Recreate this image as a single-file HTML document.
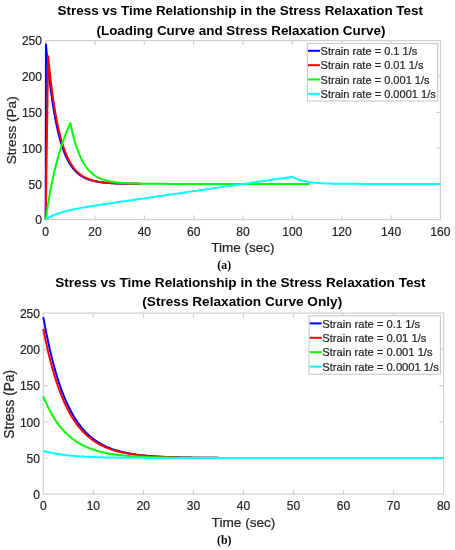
<!DOCTYPE html>
<html lang="en">
<head>
<meta charset="utf-8">
<title>Stress vs Time Relationship in the Stress Relaxation Test</title>
<style>
html,body{margin:0;padding:0;background:#fff;}
svg{display:block;}
</style>
</head>
<body>
<svg width="455" height="550" viewBox="0 0 455 550" font-family="'Liberation Sans', Arial, Helvetica, sans-serif">
<rect width="455" height="550" fill="#fff"/>
<!-- panel a -->
<g font-weight="bold" font-size="13.45" fill="#000" text-anchor="middle">
<text x="240.25" y="15.4">Stress vs Time Relationship in the Stress Relaxation Test</text>
<text x="240.95" y="35">(Loading Curve and Stress Relaxation Curve)</text>
</g>
<g stroke="#d2d2d2" stroke-width="1.2" fill="none">
<path d="M45.7,40.7 H440.4 V219.7 H45.7 Z"/>
<path d="M95.04,219.7 v-4.4 M95.04,40.7 v4.4"/>
<path d="M144.38,219.7 v-4.4 M144.38,40.7 v4.4"/>
<path d="M193.71,219.7 v-4.4 M193.71,40.7 v4.4"/>
<path d="M243.05,219.7 v-4.4 M243.05,40.7 v4.4"/>
<path d="M292.39,219.7 v-4.4 M292.39,40.7 v4.4"/>
<path d="M341.72,219.7 v-4.4 M341.72,40.7 v4.4"/>
<path d="M391.06,219.7 v-4.4 M391.06,40.7 v4.4"/>
<path d="M45.7,183.90 h4.4 M440.4,183.90 h-4.4"/>
<path d="M45.7,148.10 h4.4 M440.4,148.10 h-4.4"/>
<path d="M45.7,112.30 h4.4 M440.4,112.30 h-4.4"/>
<path d="M45.7,76.50 h4.4 M440.4,76.50 h-4.4"/>
</g>
<g fill="#262626" stroke="#262626" stroke-width="0.22" font-size="12.05">
<text x="45.70" y="235.50" text-anchor="middle">0</text>
<text x="95.04" y="235.50" text-anchor="middle">20</text>
<text x="144.38" y="235.50" text-anchor="middle">40</text>
<text x="193.71" y="235.50" text-anchor="middle">60</text>
<text x="243.05" y="235.50" text-anchor="middle">80</text>
<text x="292.39" y="235.50" text-anchor="middle">100</text>
<text x="341.72" y="235.50" text-anchor="middle">120</text>
<text x="391.06" y="235.50" text-anchor="middle">140</text>
<text x="440.40" y="235.50" text-anchor="middle">160</text>
<text x="42.00" y="224.40" text-anchor="end">0</text>
<text x="42.00" y="188.60" text-anchor="end">50</text>
<text x="42.00" y="152.80" text-anchor="end">100</text>
<text x="42.00" y="117.00" text-anchor="end">150</text>
<text x="42.00" y="81.20" text-anchor="end">200</text>
<text x="42.00" y="45.40" text-anchor="end">250</text>
</g>
<g fill="none" stroke-width="2" stroke-linejoin="round">
<path d="M45.70,219.70 L45.70,217.47 L45.71,215.23 L45.71,213.00 L45.71,210.76 L45.72,208.53 L45.72,206.30 L45.72,204.07 L45.72,201.83 L45.73,199.60 L45.73,197.37 L45.73,195.14 L45.74,192.91 L45.74,190.68 L45.74,188.45 L45.75,186.23 L45.75,184.00 L45.75,181.77 L45.76,179.54 L45.76,177.32 L45.76,175.09 L45.77,172.86 L45.77,170.64 L45.77,168.41 L45.77,166.19 L45.78,163.97 L45.78,161.74 L45.78,159.52 L45.79,157.30 L45.79,155.07 L45.79,152.85 L45.80,150.63 L45.80,148.41 L45.80,146.19 L45.81,143.97 L45.81,141.75 L45.81,139.53 L45.82,137.31 L45.82,135.09 L45.82,132.88 L45.82,130.66 L45.83,128.44 L45.83,126.23 L45.83,124.01 L45.84,121.79 L45.84,119.58 L45.84,117.37 L45.85,115.15 L45.85,112.94 L45.85,110.72 L45.86,108.51 L45.86,106.30 L45.86,104.09 L45.87,101.88 L45.87,99.66 L45.87,97.45 L45.87,95.24 L45.88,93.03 L45.88,90.82 L45.88,88.62 L45.89,86.41 L45.89,84.20 L45.89,81.99 L45.90,79.78 L45.90,77.58 L45.90,75.37 L45.91,73.17 L45.91,70.96 L45.91,68.76 L45.92,66.55 L45.92,64.35 L45.92,62.14 L45.92,59.94 L45.93,57.74 L45.93,55.54 L45.93,53.34 L45.94,51.13 L45.94,48.93 L45.94,46.73 L45.95,44.53 L46.26,48.03 L46.57,51.44 L46.89,54.76 L47.20,58.01 L47.51,61.17 L47.83,64.25 L48.14,67.25 L48.45,70.18 L48.77,73.03 L49.08,75.81 L49.40,78.53 L49.71,81.17 L50.02,83.75 L50.34,86.26 L50.65,88.71 L50.96,91.10 L51.28,93.43 L51.59,95.70 L51.90,97.92 L52.22,100.07 L52.53,102.18 L52.84,104.23 L53.16,106.23 L53.47,108.18 L53.78,110.08 L54.10,111.93 L54.41,113.74 L54.73,115.50 L55.04,117.21 L55.35,118.89 L55.67,120.52 L55.98,122.11 L56.29,123.66 L56.61,125.17 L56.92,126.65 L57.23,128.08 L57.55,129.48 L57.86,130.85 L58.17,132.18 L58.49,133.48 L58.80,134.75 L59.11,135.98 L59.43,137.18 L59.74,138.35 L60.05,139.50 L60.37,140.61 L60.68,141.70 L61.00,142.76 L61.31,143.79 L61.62,144.80 L61.94,145.78 L62.25,146.73 L62.56,147.67 L62.88,148.58 L63.19,149.46 L63.50,150.33 L63.82,151.17 L64.13,151.99 L64.44,152.79 L64.76,153.57 L65.07,154.33 L65.38,155.08 L65.70,155.80 L66.01,156.51 L66.33,157.19 L66.64,157.86 L66.95,158.52 L67.27,159.15 L67.58,159.77 L67.89,160.38 L68.21,160.97 L68.52,161.55 L68.83,162.11 L69.15,162.65 L69.46,163.19 L69.77,163.71 L70.09,164.21 L70.40,164.71 L70.71,165.19 L71.03,165.66 L71.34,166.12 L71.65,166.56 L71.97,167.00 L72.28,167.42 L72.60,167.84 L72.91,168.24 L73.22,168.63 L73.54,169.02 L73.85,169.39 L74.16,169.75 L74.48,170.11 L74.79,170.45 L75.10,170.79 L75.42,171.12 L75.73,171.44 L76.04,171.75 L76.36,172.06 L76.67,172.36 L76.98,172.65 L77.30,172.93 L77.61,173.20 L77.93,173.47 L78.24,173.73 L78.55,173.99 L78.87,174.24 L79.18,174.48 L79.49,174.72 L79.81,174.95 L80.12,175.17 L80.43,175.39 L80.75,175.60 L81.06,175.81 L81.37,176.02 L81.69,176.21 L82.00,176.41 L82.31,176.59 L82.63,176.78 L82.94,176.96 L83.26,177.13 L83.57,177.30 L83.88,177.47 L84.20,177.63 L84.51,177.79 L84.82,177.94 L85.14,178.09 L85.45,178.23 L85.76,178.38 L86.08,178.52 L86.39,178.65 L86.70,178.78 L87.02,178.91 L87.33,179.04 L87.64,179.16 L87.96,179.28 L88.27,179.39 L88.58,179.51 L88.90,179.62 L89.21,179.72 L89.53,179.83 L89.84,179.93 L90.15,180.03 L90.47,180.13 L90.78,180.22 L91.09,180.31 L91.41,180.40 L91.72,180.49 L92.03,180.58 L92.35,180.66 L92.66,180.74 L92.97,180.82 L93.29,180.90 L93.60,180.97 L93.91,181.05 L94.23,181.12 L94.54,181.19 L94.86,181.26 L95.17,181.32 L95.48,181.39 L95.80,181.45 L96.11,181.51 L96.42,181.57 L96.74,181.63 L97.05,181.69 L97.36,181.74 L97.68,181.80 L97.99,181.85 L98.30,181.90 L98.62,181.95 L98.93,182.00 L99.24,182.05 L99.56,182.09 L99.87,182.14 L100.18,182.18 L100.50,182.23 L100.81,182.27 L101.13,182.31 L101.44,182.35 L101.75,182.39 L102.07,182.43 L102.38,182.46 L102.69,182.50 L103.01,182.54 L103.32,182.57 L103.63,182.60 L103.95,182.64 L104.26,182.67 L104.57,182.70 L104.89,182.73 L105.20,182.76 L105.51,182.79 L105.83,182.81 L106.14,182.84 L106.46,182.87 L106.77,182.89 L107.08,182.92 L107.40,182.94 L107.71,182.97 L108.02,182.99 L108.34,183.01 L108.65,183.04 L108.96,183.06 L109.28,183.08 L109.59,183.10 L109.90,183.12 L110.22,183.14 L110.53,183.16 L110.84,183.18 L111.16,183.20 L111.47,183.21 L111.79,183.23 L112.10,183.25 L112.41,183.26 L112.73,183.28 L113.04,183.29 L113.35,183.31 L113.67,183.32 L113.98,183.34 L114.29,183.35 L114.61,183.37 L114.92,183.38 L115.23,183.39 L115.55,183.41 L115.86,183.42 L116.17,183.43 L116.49,183.44 L116.80,183.45 L117.11,183.47 L117.43,183.48 L117.74,183.49 L118.06,183.50 L118.37,183.51 L118.68,183.52 L119.00,183.53 L119.31,183.54 L119.62,183.55 L119.94,183.55 L120.25,183.56 L120.56,183.57 L120.88,183.58 L121.19,183.59 L121.50,183.60 L121.82,183.60 L122.13,183.61 L122.44,183.62 L122.76,183.62 L123.07,183.63 L123.39,183.64 L123.70,183.65 L124.01,183.65 L124.33,183.66 L124.64,183.66 L124.95,183.67 L125.27,183.68 L125.58,183.68 L125.89,183.69 L126.21,183.69 L126.52,183.70 L126.83,183.70 L127.15,183.71 L127.46,183.71 L127.77,183.72 L128.09,183.72 L128.40,183.73 L128.71,183.73 L129.03,183.73 L129.34,183.74 L129.66,183.74 L129.97,183.75 L130.28,183.75 L130.60,183.75 L130.91,183.76 L131.22,183.76 L131.54,183.76 L131.85,183.77 L132.16,183.77 L132.48,183.77 L132.79,183.78 L133.10,183.78 L133.42,183.78 L133.73,183.79 L134.04,183.79 L134.36,183.79 L134.67,183.80 L134.99,183.80 L135.30,183.80 L135.61,183.80 L135.93,183.81 L136.24,183.81 L136.55,183.81 L136.87,183.81 L137.18,183.81 L137.49,183.82 L137.81,183.82 L138.12,183.82 L138.43,183.82 L138.75,183.82 L139.06,183.83 L139.37,183.83 L139.69,183.83" stroke="#0000ff"/>
<path d="M45.70,219.70 L45.73,217.47 L45.76,215.24 L45.79,213.02 L45.82,210.80 L45.86,208.58 L45.89,206.37 L45.92,204.16 L45.95,201.96 L45.98,199.77 L46.01,197.57 L46.04,195.39 L46.07,193.20 L46.11,191.02 L46.14,188.85 L46.17,186.68 L46.20,184.51 L46.23,182.35 L46.26,180.19 L46.29,178.04 L46.32,175.89 L46.36,173.74 L46.39,171.60 L46.42,169.47 L46.45,167.33 L46.48,165.21 L46.51,163.08 L46.54,160.96 L46.57,158.85 L46.61,156.74 L46.64,154.63 L46.67,152.53 L46.70,150.43 L46.73,148.33 L46.76,146.24 L46.79,144.16 L46.82,142.08 L46.86,140.00 L46.89,137.92 L46.92,135.86 L46.95,133.79 L46.98,131.73 L47.01,129.67 L47.04,127.62 L47.07,125.57 L47.11,123.52 L47.14,121.48 L47.17,119.45 L47.20,117.41 L47.23,115.38 L47.26,113.36 L47.29,111.34 L47.32,109.32 L47.35,107.31 L47.39,105.30 L47.42,103.29 L47.45,101.29 L47.48,99.29 L47.51,97.30 L47.54,95.31 L47.57,93.32 L47.60,91.34 L47.64,89.36 L47.67,87.39 L47.70,85.42 L47.73,83.45 L47.76,81.49 L47.79,79.53 L47.82,77.58 L47.85,75.62 L47.89,73.68 L47.92,71.73 L47.95,69.79 L47.98,67.86 L48.01,65.92 L48.04,64.00 L48.07,62.07 L48.10,60.15 L48.14,58.23 L48.17,56.32 L48.48,59.52 L48.79,62.64 L49.11,65.68 L49.42,68.65 L49.73,71.54 L50.05,74.36 L50.36,77.11 L50.68,79.79 L50.99,82.41 L51.30,84.95 L51.62,87.44 L51.93,89.86 L52.24,92.22 L52.56,94.52 L52.87,96.76 L53.18,98.95 L53.50,101.08 L53.81,103.16 L54.12,105.19 L54.44,107.16 L54.75,109.09 L55.06,110.97 L55.38,112.80 L55.69,114.58 L56.00,116.32 L56.32,118.02 L56.63,119.67 L56.95,121.28 L57.26,122.85 L57.57,124.39 L57.89,125.88 L58.20,127.34 L58.51,128.75 L58.83,130.14 L59.14,131.49 L59.45,132.80 L59.77,134.09 L60.08,135.34 L60.39,136.56 L60.71,137.74 L61.02,138.90 L61.33,140.03 L61.65,141.13 L61.96,142.21 L62.28,143.25 L62.59,144.27 L62.90,145.27 L63.22,146.24 L63.53,147.18 L63.84,148.10 L64.16,149.00 L64.47,149.88 L64.78,150.73 L65.10,151.56 L65.41,152.38 L65.72,153.17 L66.04,153.94 L66.35,154.69 L66.66,155.42 L66.98,156.14 L67.29,156.83 L67.60,157.51 L67.92,158.18 L68.23,158.82 L68.55,159.45 L68.86,160.06 L69.17,160.66 L69.49,161.25 L69.80,161.81 L70.11,162.37 L70.43,162.91 L70.74,163.44 L71.05,163.95 L71.37,164.45 L71.68,164.94 L71.99,165.41 L72.31,165.88 L72.62,166.33 L72.93,166.77 L73.25,167.20 L73.56,167.62 L73.88,168.03 L74.19,168.43 L74.50,168.82 L74.82,169.19 L75.13,169.56 L75.44,169.92 L75.76,170.27 L76.07,170.62 L76.38,170.95 L76.70,171.27 L77.01,171.59 L77.32,171.90 L77.64,172.20 L77.95,172.50 L78.26,172.78 L78.58,173.06 L78.89,173.33 L79.20,173.60 L79.52,173.86 L79.83,174.11 L80.15,174.35 L80.46,174.59 L80.77,174.83 L81.09,175.05 L81.40,175.28 L81.71,175.49 L82.03,175.70 L82.34,175.91 L82.65,176.11 L82.97,176.31 L83.28,176.50 L83.59,176.68 L83.91,176.86 L84.22,177.04 L84.53,177.21 L84.85,177.38 L85.16,177.54 L85.48,177.70 L85.79,177.86 L86.10,178.01 L86.42,178.16 L86.73,178.30 L87.04,178.44 L87.36,178.58 L87.67,178.71 L87.98,178.84 L88.30,178.97 L88.61,179.09 L88.92,179.21 L89.24,179.33 L89.55,179.45 L89.86,179.56 L90.18,179.67 L90.49,179.77 L90.81,179.88 L91.12,179.98 L91.43,180.08 L91.75,180.17 L92.06,180.27 L92.37,180.36 L92.69,180.45 L93.00,180.53 L93.31,180.62 L93.63,180.70 L93.94,180.78 L94.25,180.86 L94.57,180.93 L94.88,181.01 L95.19,181.08 L95.51,181.15 L95.82,181.22 L96.13,181.29 L96.45,181.35 L96.76,181.42 L97.08,181.48 L97.39,181.54 L97.70,181.60 L98.02,181.66 L98.33,181.71 L98.64,181.77 L98.96,181.82 L99.27,181.87 L99.58,181.93 L99.90,181.98 L100.21,182.02 L100.52,182.07 L100.84,182.12 L101.15,182.16 L101.46,182.20 L101.78,182.25 L102.09,182.29 L102.41,182.33 L102.72,182.37 L103.03,182.41 L103.35,182.44 L103.66,182.48 L103.97,182.52 L104.29,182.55 L104.60,182.59 L104.91,182.62 L105.23,182.65 L105.54,182.68 L105.85,182.71 L106.17,182.74 L106.48,182.77 L106.79,182.80 L107.11,182.83 L107.42,182.85 L107.73,182.88 L108.05,182.91 L108.36,182.93 L108.68,182.96 L108.99,182.98 L109.30,183.00 L109.62,183.02 L109.93,183.05 L110.24,183.07 L110.56,183.09 L110.87,183.11 L111.18,183.13 L111.50,183.15 L111.81,183.17 L112.12,183.19 L112.44,183.20 L112.75,183.22 L113.06,183.24 L113.38,183.25 L113.69,183.27 L114.01,183.29 L114.32,183.30 L114.63,183.32 L114.95,183.33 L115.26,183.35 L115.57,183.36 L115.89,183.37 L116.20,183.39 L116.51,183.40 L116.83,183.41 L117.14,183.42 L117.45,183.44 L117.77,183.45 L118.08,183.46 L118.39,183.47 L118.71,183.48 L119.02,183.49 L119.33,183.50 L119.65,183.51 L119.96,183.52 L120.28,183.53 L120.59,183.54 L120.90,183.55 L121.22,183.56 L121.53,183.57 L121.84,183.58 L122.16,183.58 L122.47,183.59 L122.78,183.60 L123.10,183.61 L123.41,183.61 L123.72,183.62 L124.04,183.63 L124.35,183.63 L124.66,183.64 L124.98,183.65 L125.29,183.65 L125.61,183.66 L125.92,183.67 L126.23,183.67 L126.55,183.68 L126.86,183.68 L127.17,183.69 L127.49,183.69 L127.80,183.70 L128.11,183.70 L128.43,183.71 L128.74,183.71 L129.05,183.72 L129.37,183.72 L129.68,183.73 L129.99,183.73 L130.31,183.74 L130.62,183.74 L130.94,183.74 L131.25,183.75 L131.56,183.75 L131.88,183.76 L132.19,183.76 L132.50,183.76 L132.82,183.77 L133.13,183.77 L133.44,183.77 L133.76,183.78 L134.07,183.78 L134.38,183.78 L134.70,183.79 L135.01,183.79 L135.32,183.79 L135.64,183.79 L135.95,183.80 L136.26,183.80 L136.58,183.80 L136.89,183.80 L137.21,183.81 L137.52,183.81 L137.83,183.81 L138.15,183.81 L138.46,183.82 L138.77,183.82 L139.09,183.82 L139.40,183.82 L139.71,183.82 L140.03,183.83 L140.34,183.83 L140.65,183.83 L140.97,183.83 L141.28,183.83 L141.59,183.83 L141.91,183.84" stroke="#ff0000"/>
<path d="M45.70,219.70 L46.01,217.49 L46.32,215.32 L46.64,213.19 L46.95,211.11 L47.26,209.07 L47.57,207.06 L47.89,205.10 L48.20,203.17 L48.51,201.28 L48.82,199.43 L49.13,197.61 L49.45,195.82 L49.76,194.07 L50.07,192.35 L50.38,190.66 L50.70,189.01 L51.01,187.38 L51.32,185.78 L51.63,184.21 L51.95,182.67 L52.26,181.16 L52.57,179.67 L52.88,178.21 L53.19,176.78 L53.51,175.36 L53.82,173.98 L54.13,172.61 L54.44,171.27 L54.76,169.95 L55.07,168.65 L55.38,167.38 L55.69,166.12 L56.00,164.89 L56.32,163.67 L56.63,162.47 L56.94,161.29 L57.25,160.13 L57.57,158.99 L57.88,157.87 L58.19,156.76 L58.50,155.67 L58.82,154.59 L59.13,153.53 L59.44,152.48 L59.75,151.45 L60.06,150.44 L60.38,149.43 L60.69,148.44 L61.00,147.47 L61.31,146.51 L61.63,145.56 L61.94,144.62 L62.25,143.70 L62.56,142.78 L62.87,141.88 L63.19,140.99 L63.50,140.11 L63.81,139.24 L64.12,138.38 L64.44,137.54 L64.75,136.70 L65.06,135.87 L65.37,135.05 L65.68,134.24 L66.00,133.44 L66.31,132.65 L66.62,131.86 L66.93,131.09 L67.25,130.32 L67.56,129.56 L67.87,128.81 L68.18,128.06 L68.50,127.32 L68.81,126.59 L69.12,125.87 L69.43,125.15 L69.74,124.44 L70.06,123.74 L70.37,123.04 L71.17,126.87 L71.97,130.45 L72.77,133.81 L73.57,136.95 L74.37,139.90 L75.17,142.67 L75.97,145.26 L76.77,147.69 L77.57,149.96 L78.37,152.09 L79.17,154.09 L79.97,155.96 L80.77,157.72 L81.57,159.36 L82.37,160.90 L83.17,162.35 L83.97,163.70 L84.77,164.97 L85.57,166.16 L86.37,167.28 L87.17,168.32 L87.98,169.30 L88.78,170.22 L89.58,171.08 L90.38,171.88 L91.18,172.64 L91.98,173.34 L92.78,174.01 L93.58,174.63 L94.38,175.21 L95.18,175.76 L95.98,176.27 L96.78,176.75 L97.58,177.20 L98.38,177.62 L99.18,178.01 L99.98,178.38 L100.78,178.73 L101.58,179.05 L102.38,179.36 L103.18,179.64 L103.98,179.91 L104.78,180.16 L105.58,180.40 L106.38,180.62 L107.18,180.82 L107.98,181.02 L108.78,181.20 L109.58,181.37 L110.38,181.53 L111.18,181.68 L111.98,181.82 L112.78,181.95 L113.58,182.07 L114.38,182.18 L115.19,182.29 L115.99,182.39 L116.79,182.49 L117.59,182.58 L118.39,182.66 L119.19,182.74 L119.99,182.81 L120.79,182.88 L121.59,182.94 L122.39,183.00 L123.19,183.06 L123.99,183.11 L124.79,183.16 L125.59,183.21 L126.39,183.25 L127.19,183.29 L127.99,183.33 L128.79,183.37 L129.59,183.40 L130.39,183.43 L131.19,183.46 L131.99,183.49 L132.79,183.51 L133.59,183.54 L134.39,183.56 L135.19,183.58 L135.99,183.60 L136.79,183.62 L137.59,183.64 L138.39,183.66 L139.19,183.67 L139.99,183.68 L140.79,183.70 L141.59,183.71 L142.39,183.72 L143.20,183.73 L144.00,183.74 L144.80,183.75 L145.60,183.76 L146.40,183.77 L147.20,183.78 L148.00,183.79 L148.80,183.79 L149.60,183.80 L150.40,183.81 L151.20,183.81 L152.00,183.82 L152.80,183.82 L153.60,183.83 L154.40,183.83 L155.20,183.84 L156.00,183.84 L156.80,183.84 L157.60,183.85 L158.40,183.85 L159.20,183.85 L160.00,183.86 L160.80,183.86 L161.60,183.86 L162.40,183.87 L163.20,183.87 L164.00,183.87 L164.80,183.87 L165.60,183.87 L166.40,183.87 L167.20,183.88 L168.00,183.88 L168.80,183.88 L169.60,183.88 L170.41,183.88 L171.21,183.88 L172.01,183.88 L172.81,183.88 L173.61,183.89 L174.41,183.89 L175.21,183.89 L176.01,183.89 L176.81,183.89 L177.61,183.89 L178.41,183.89 L179.21,183.89 L180.01,183.89 L180.81,183.89 L181.61,183.89 L182.41,183.89 L183.21,183.89 L184.01,183.89 L184.81,183.89 L185.61,183.89 L186.41,183.90 L187.21,183.90 L188.01,183.90 L188.81,183.90 L189.61,183.90 L190.41,183.90 L191.21,183.90 L192.01,183.90 L192.81,183.90 L193.61,183.90 L194.41,183.90 L195.21,183.90 L196.01,183.90 L196.81,183.90 L197.61,183.90 L198.42,183.90 L199.22,183.90 L200.02,183.90 L200.82,183.90 L201.62,183.90 L202.42,183.90 L203.22,183.90 L204.02,183.90 L204.82,183.90 L205.62,183.90 L206.42,183.90 L207.22,183.90 L208.02,183.90 L208.82,183.90 L209.62,183.90 L210.42,183.90 L211.22,183.90 L212.02,183.90 L212.82,183.90 L213.62,183.90 L214.42,183.90 L215.22,183.90 L216.02,183.90 L216.82,183.90 L217.62,183.90 L218.42,183.90 L219.22,183.90 L220.02,183.90 L220.82,183.90 L221.62,183.90 L222.42,183.90 L223.22,183.90 L224.02,183.90 L224.82,183.90 L225.63,183.90 L226.43,183.90 L227.23,183.90 L228.03,183.90 L228.83,183.90 L229.63,183.90 L230.43,183.90 L231.23,183.90 L232.03,183.90 L232.83,183.90 L233.63,183.90 L234.43,183.90 L235.23,183.90 L236.03,183.90 L236.83,183.90 L237.63,183.90 L238.43,183.90 L239.23,183.90 L240.03,183.90 L240.83,183.90 L241.63,183.90 L242.43,183.90 L243.23,183.90 L244.03,183.90 L244.83,183.90 L245.63,183.90 L246.43,183.90 L247.23,183.90 L248.03,183.90 L248.83,183.90 L249.63,183.90 L250.43,183.90 L251.23,183.90 L252.03,183.90 L252.83,183.90 L253.64,183.90 L254.44,183.90 L255.24,183.90 L256.04,183.90 L256.84,183.90 L257.64,183.90 L258.44,183.90 L259.24,183.90 L260.04,183.90 L260.84,183.90 L261.64,183.90 L262.44,183.90 L263.24,183.90 L264.04,183.90 L264.84,183.90 L265.64,183.90 L266.44,183.90 L267.24,183.90 L268.04,183.90 L268.84,183.90 L269.64,183.90 L270.44,183.90 L271.24,183.90 L272.04,183.90 L272.84,183.90 L273.64,183.90 L274.44,183.90 L275.24,183.90 L276.04,183.90 L276.84,183.90 L277.64,183.90 L278.44,183.90 L279.24,183.90 L280.04,183.90 L280.85,183.90 L281.65,183.90 L282.45,183.90 L283.25,183.90 L284.05,183.90 L284.85,183.90 L285.65,183.90 L286.45,183.90 L287.25,183.90 L288.05,183.90 L288.85,183.90 L289.65,183.90 L290.45,183.90 L291.25,183.90 L292.05,183.90 L292.85,183.90 L293.65,183.90 L294.45,183.90 L295.25,183.90 L296.05,183.90 L296.85,183.90 L297.65,183.90 L298.45,183.90 L299.25,183.90 L300.05,183.90 L300.85,183.90 L301.65,183.90 L302.45,183.90 L303.25,183.90 L304.05,183.90 L304.85,183.90 L305.65,183.90 L306.45,183.90 L307.25,183.90 L308.06,183.90 L308.86,183.90 L309.66,183.90" stroke="#00ff00"/>
<path d="M45.70,219.70 L48.82,217.67 L51.95,216.00 L55.07,214.60 L58.19,213.41 L61.31,212.38 L64.44,211.48 L67.56,210.69 L70.68,209.97 L73.80,209.30 L76.93,208.69 L80.05,208.11 L83.17,207.56 L86.29,207.03 L89.42,206.52 L92.54,206.02 L95.66,205.53 L98.78,205.05 L101.91,204.58 L105.03,204.11 L108.15,203.64 L111.28,203.18 L114.40,202.72 L117.52,202.26 L120.64,201.80 L123.77,201.35 L126.89,200.89 L130.01,200.43 L133.13,199.98 L136.26,199.52 L139.38,199.07 L142.50,198.62 L145.62,198.16 L148.75,197.71 L151.87,197.26 L154.99,196.80 L158.11,196.35 L161.24,195.90 L164.36,195.44 L167.48,194.99 L170.61,194.54 L173.73,194.08 L176.85,193.63 L179.97,193.18 L183.10,192.72 L186.22,192.27 L189.34,191.82 L192.46,191.36 L195.59,190.91 L198.71,190.46 L201.83,190.00 L204.95,189.55 L208.08,189.10 L211.20,188.64 L214.32,188.19 L217.44,187.74 L220.57,187.28 L223.69,186.83 L226.81,186.38 L229.93,185.93 L233.06,185.47 L236.18,185.02 L239.30,184.57 L242.43,184.11 L245.55,183.66 L248.67,183.21 L251.79,182.75 L254.92,182.30 L258.04,181.85 L261.16,181.39 L264.28,180.94 L267.41,180.49 L270.53,180.03 L273.65,179.58 L276.77,179.13 L279.90,178.67 L283.02,178.22 L286.14,177.77 L289.26,177.31 L292.39,176.86 L292.88,177.14 L293.38,177.40 L293.87,177.66 L294.37,177.91 L294.86,178.14 L295.36,178.37 L295.85,178.59 L296.35,178.79 L296.84,179.00 L297.34,179.19 L297.83,179.37 L298.33,179.55 L298.82,179.72 L299.32,179.89 L299.81,180.05 L300.31,180.20 L300.80,180.34 L301.30,180.48 L301.79,180.62 L302.29,180.75 L302.78,180.87 L303.28,180.99 L303.77,181.10 L304.27,181.21 L304.76,181.32 L305.26,181.42 L305.75,181.52 L306.25,181.61 L306.74,181.70 L307.24,181.79 L307.73,181.87 L308.23,181.95 L308.72,182.03 L309.22,182.10 L309.71,182.17 L310.21,182.24 L310.70,182.31 L311.20,182.37 L311.69,182.43 L312.19,182.49 L312.68,182.54 L313.18,182.60 L313.67,182.65 L314.17,182.70 L314.66,182.74 L315.16,182.79 L315.65,182.83 L316.15,182.87 L316.64,182.92 L317.14,182.95 L317.63,182.99 L318.13,183.03 L318.62,183.06 L319.12,183.09 L319.61,183.13 L320.11,183.16 L320.60,183.19 L321.10,183.21 L321.59,183.24 L322.09,183.27 L322.58,183.29 L323.08,183.32 L323.57,183.34 L324.07,183.36 L324.56,183.38 L325.06,183.40 L325.55,183.42 L326.05,183.44 L326.54,183.46 L327.04,183.48 L327.53,183.49 L328.03,183.51 L328.52,183.52 L329.02,183.54 L329.51,183.55 L330.01,183.57 L330.50,183.58 L331.00,183.59 L331.49,183.60 L331.99,183.62 L332.48,183.63 L332.98,183.64 L333.47,183.65 L333.97,183.66 L334.46,183.67 L334.96,183.68 L335.45,183.69 L335.95,183.69 L336.44,183.70 L336.94,183.71 L337.43,183.72 L337.93,183.72 L338.42,183.73 L338.92,183.74 L339.41,183.74 L339.91,183.75 L340.40,183.76 L340.90,183.76 L341.39,183.77 L341.89,183.77 L342.39,183.78 L342.88,183.78 L343.38,183.79 L343.87,183.79 L344.37,183.80 L344.86,183.80 L345.36,183.80 L345.85,183.81 L346.35,183.81 L346.84,183.81 L347.34,183.82 L347.83,183.82 L348.33,183.82 L348.82,183.83 L349.32,183.83 L349.81,183.83 L350.31,183.84 L350.80,183.84 L351.30,183.84 L351.79,183.84 L352.29,183.85 L352.78,183.85 L353.28,183.85 L353.77,183.85 L354.27,183.85 L354.76,183.86 L355.26,183.86 L355.75,183.86 L356.25,183.86 L356.74,183.86 L357.24,183.86 L357.73,183.86 L358.23,183.87 L358.72,183.87 L359.22,183.87 L359.71,183.87 L360.21,183.87 L360.70,183.87 L361.20,183.87 L361.69,183.87 L362.19,183.88 L362.68,183.88 L363.18,183.88 L363.67,183.88 L364.17,183.88 L364.66,183.88 L365.16,183.88 L365.65,183.88 L366.15,183.88 L366.64,183.88 L367.14,183.88 L367.63,183.88 L368.13,183.88 L368.62,183.89 L369.12,183.89 L369.61,183.89 L370.11,183.89 L370.60,183.89 L371.10,183.89 L371.59,183.89 L372.09,183.89 L372.58,183.89 L373.08,183.89 L373.57,183.89 L374.07,183.89 L374.56,183.89 L375.06,183.89 L375.55,183.89 L376.05,183.89 L376.54,183.89 L377.04,183.89 L377.53,183.89 L378.03,183.89 L378.52,183.89 L379.02,183.89 L379.51,183.89 L380.01,183.89 L380.50,183.89 L381.00,183.89 L381.49,183.89 L381.99,183.90 L382.48,183.90 L382.98,183.90 L383.47,183.90 L383.97,183.90 L384.46,183.90 L384.96,183.90 L385.45,183.90 L385.95,183.90 L386.44,183.90 L386.94,183.90 L387.43,183.90 L387.93,183.90 L388.42,183.90 L388.92,183.90 L389.41,183.90 L389.91,183.90 L390.40,183.90 L390.90,183.90 L391.39,183.90 L391.89,183.90 L392.38,183.90 L392.88,183.90 L393.37,183.90 L393.87,183.90 L394.36,183.90 L394.86,183.90 L395.35,183.90 L395.85,183.90 L396.34,183.90 L396.84,183.90 L397.33,183.90 L397.83,183.90 L398.32,183.90 L398.82,183.90 L399.31,183.90 L399.81,183.90 L400.30,183.90 L400.80,183.90 L401.29,183.90 L401.79,183.90 L402.28,183.90 L402.78,183.90 L403.27,183.90 L403.77,183.90 L404.26,183.90 L404.76,183.90 L405.25,183.90 L405.75,183.90 L406.24,183.90 L406.74,183.90 L407.23,183.90 L407.73,183.90 L408.22,183.90 L408.72,183.90 L409.21,183.90 L409.71,183.90 L410.20,183.90 L410.70,183.90 L411.19,183.90 L411.69,183.90 L412.18,183.90 L412.68,183.90 L413.17,183.90 L413.67,183.90 L414.16,183.90 L414.66,183.90 L415.15,183.90 L415.65,183.90 L416.14,183.90 L416.64,183.90 L417.13,183.90 L417.63,183.90 L418.12,183.90 L418.62,183.90 L419.11,183.90 L419.61,183.90 L420.10,183.90 L420.60,183.90 L421.09,183.90 L421.59,183.90 L422.08,183.90 L422.58,183.90 L423.07,183.90 L423.57,183.90 L424.06,183.90 L424.56,183.90 L425.05,183.90 L425.55,183.90 L426.04,183.90 L426.54,183.90 L427.03,183.90 L427.53,183.90 L428.02,183.90 L428.52,183.90 L429.01,183.90 L429.51,183.90 L430.00,183.90 L430.50,183.90 L430.99,183.90 L431.49,183.90 L431.98,183.90 L432.48,183.90 L432.97,183.90 L433.47,183.90 L433.96,183.90 L434.46,183.90 L434.95,183.90 L435.45,183.90 L435.94,183.90 L436.44,183.90 L436.93,183.90 L437.43,183.90 L437.92,183.90 L438.42,183.90 L438.91,183.90 L439.41,183.90 L439.90,183.90 L440.40,183.90" stroke="#00ffff"/>
</g>
<rect x="307.4" y="43.6" width="130.30" height="57.40" fill="#fff" stroke="#c8c8c8" stroke-width="1.1"/>
<path d="M308,50.80 H320" stroke="#0000ff" stroke-width="2" fill="none"/>
<text x="320.6" y="55.00" font-size="11.06" fill="#262626" stroke="#262626" stroke-width="0.22">Strain rate = 0.1 1/s</text>
<path d="M308,65.20 H320" stroke="#ff0000" stroke-width="2" fill="none"/>
<text x="320.6" y="69.40" font-size="11.06" fill="#262626" stroke="#262626" stroke-width="0.22">Strain rate = 0.01 1/s</text>
<path d="M308,79.50 H320" stroke="#00ff00" stroke-width="2" fill="none"/>
<text x="320.6" y="83.70" font-size="11.06" fill="#262626" stroke="#262626" stroke-width="0.22">Strain rate = 0.001 1/s</text>
<path d="M308,93.90 H320" stroke="#00ffff" stroke-width="2" fill="none"/>
<text x="320.6" y="98.10" font-size="11.06" fill="#262626" stroke="#262626" stroke-width="0.22">Strain rate = 0.0001 1/s</text>
<text x="242.8" y="252" font-size="13.5" fill="#262626" stroke="#262626" stroke-width="0.22" text-anchor="middle">Time (sec)</text>
<text transform="translate(16.2,130.3) rotate(-90)" font-size="13.6" fill="#262626" stroke="#262626" stroke-width="0.22" text-anchor="middle">Stress (Pa)</text>
<text x="224.2" y="268.7" font-size="11.8" font-weight="bold" font-family="'Liberation Serif', 'DejaVu Serif', serif" fill="#000" text-anchor="middle">(a)</text>
<!-- panel b -->
<g font-weight="bold" font-size="13.63" fill="#000" text-anchor="middle">
<text x="240.4" y="286.6">Stress vs Time Relationship in the Stress Relaxation Test</text>
<text x="242.25" y="306.4">(Stress Relaxation Curve Only)</text>
</g>
<g stroke="#d2d2d2" stroke-width="1.2" fill="none">
<path d="M43.3,313.2 H443.6 V494.2 H43.3 Z"/>
<path d="M93.34,494.2 v-4.4 M93.34,313.2 v4.4"/>
<path d="M143.38,494.2 v-4.4 M143.38,313.2 v4.4"/>
<path d="M193.41,494.2 v-4.4 M193.41,313.2 v4.4"/>
<path d="M243.45,494.2 v-4.4 M243.45,313.2 v4.4"/>
<path d="M293.49,494.2 v-4.4 M293.49,313.2 v4.4"/>
<path d="M343.53,494.2 v-4.4 M343.53,313.2 v4.4"/>
<path d="M393.56,494.2 v-4.4 M393.56,313.2 v4.4"/>
<path d="M43.3,458.00 h4.4 M443.6,458.00 h-4.4"/>
<path d="M43.3,421.80 h4.4 M443.6,421.80 h-4.4"/>
<path d="M43.3,385.60 h4.4 M443.6,385.60 h-4.4"/>
<path d="M43.3,349.40 h4.4 M443.6,349.40 h-4.4"/>
</g>
<g fill="#262626" stroke="#262626" stroke-width="0.22" font-size="12.05">
<text x="43.30" y="510.00" text-anchor="middle">0</text>
<text x="93.34" y="510.00" text-anchor="middle">10</text>
<text x="143.38" y="510.00" text-anchor="middle">20</text>
<text x="193.41" y="510.00" text-anchor="middle">30</text>
<text x="243.45" y="510.00" text-anchor="middle">40</text>
<text x="293.49" y="510.00" text-anchor="middle">50</text>
<text x="343.53" y="510.00" text-anchor="middle">60</text>
<text x="393.56" y="510.00" text-anchor="middle">70</text>
<text x="443.60" y="510.00" text-anchor="middle">80</text>
<text x="40.00" y="498.90" text-anchor="end">0</text>
<text x="40.00" y="462.70" text-anchor="end">50</text>
<text x="40.00" y="426.50" text-anchor="end">100</text>
<text x="40.00" y="390.30" text-anchor="end">150</text>
<text x="40.00" y="354.10" text-anchor="end">200</text>
<text x="40.00" y="317.90" text-anchor="end">250</text>
</g>
<g fill="none" stroke-width="2" stroke-linejoin="round">
<path d="M43.30,317.08 L43.94,320.61 L44.57,324.06 L45.21,327.42 L45.84,330.70 L46.48,333.89 L47.12,337.01 L47.75,340.05 L48.39,343.01 L49.02,345.89 L49.66,348.71 L50.30,351.45 L50.93,354.12 L51.57,356.73 L52.20,359.27 L52.84,361.75 L53.47,364.17 L54.11,366.52 L54.75,368.82 L55.38,371.05 L56.02,373.24 L56.65,375.36 L57.29,377.44 L57.93,379.46 L58.56,381.43 L59.20,383.35 L59.83,385.23 L60.47,387.05 L61.11,388.83 L61.74,390.57 L62.38,392.26 L63.01,393.91 L63.65,395.52 L64.29,397.09 L64.92,398.62 L65.56,400.11 L66.19,401.56 L66.83,402.98 L67.47,404.36 L68.10,405.70 L68.74,407.02 L69.37,408.30 L70.01,409.54 L70.64,410.76 L71.28,411.95 L71.92,413.10 L72.55,414.23 L73.19,415.33 L73.82,416.40 L74.46,417.44 L75.10,418.46 L75.73,419.45 L76.37,420.42 L77.00,421.36 L77.64,422.28 L78.28,423.18 L78.91,424.05 L79.55,424.90 L80.18,425.74 L80.82,426.54 L81.46,427.33 L82.09,428.10 L82.73,428.85 L83.36,429.59 L84.00,430.30 L84.64,430.99 L85.27,431.67 L85.91,432.33 L86.54,432.98 L87.18,433.61 L87.81,434.22 L88.45,434.81 L89.09,435.40 L89.72,435.96 L90.36,436.52 L90.99,437.06 L91.63,437.58 L92.27,438.09 L92.90,438.59 L93.54,439.08 L94.17,439.56 L94.81,440.02 L95.45,440.47 L96.08,440.91 L96.72,441.34 L97.35,441.76 L97.99,442.16 L98.63,442.56 L99.26,442.95 L99.90,443.33 L100.53,443.70 L101.17,444.05 L101.81,444.40 L102.44,444.75 L103.08,445.08 L103.71,445.40 L104.35,445.72 L104.99,446.03 L105.62,446.33 L106.26,446.62 L106.89,446.91 L107.53,447.18 L108.16,447.46 L108.80,447.72 L109.44,447.98 L110.07,448.23 L110.71,448.48 L111.34,448.71 L111.98,448.95 L112.62,449.17 L113.25,449.40 L113.89,449.61 L114.52,449.82 L115.16,450.03 L115.80,450.23 L116.43,450.42 L117.07,450.61 L117.70,450.80 L118.34,450.98 L118.98,451.16 L119.61,451.33 L120.25,451.49 L120.88,451.66 L121.52,451.82 L122.16,451.97 L122.79,452.12 L123.43,452.27 L124.06,452.41 L124.70,452.55 L125.33,452.69 L125.97,452.82 L126.61,452.95 L127.24,453.08 L127.88,453.20 L128.51,453.33 L129.15,453.44 L129.79,453.56 L130.42,453.67 L131.06,453.78 L131.69,453.88 L132.33,453.99 L132.97,454.09 L133.60,454.19 L134.24,454.28 L134.87,454.37 L135.51,454.47 L136.15,454.55 L136.78,454.64 L137.42,454.72 L138.05,454.81 L138.69,454.89 L139.33,454.97 L139.96,455.04 L140.60,455.12 L141.23,455.19 L141.87,455.26 L142.50,455.33 L143.14,455.39 L143.78,455.46 L144.41,455.52 L145.05,455.59 L145.68,455.65 L146.32,455.71 L146.96,455.76 L147.59,455.82 L148.23,455.87 L148.86,455.93 L149.50,455.98 L150.14,456.03 L150.77,456.08 L151.41,456.13 L152.04,456.17 L152.68,456.22 L153.32,456.27 L153.95,456.31 L154.59,456.35 L155.22,456.39 L155.86,456.43 L156.50,456.47 L157.13,456.51 L157.77,456.55 L158.40,456.58 L159.04,456.62 L159.67,456.65 L160.31,456.69 L160.95,456.72 L161.58,456.75 L162.22,456.78 L162.85,456.82 L163.49,456.84 L164.13,456.87 L164.76,456.90 L165.40,456.93 L166.03,456.96 L166.67,456.98 L167.31,457.01 L167.94,457.03 L168.58,457.06 L169.21,457.08 L169.85,457.10 L170.49,457.13 L171.12,457.15 L171.76,457.17 L172.39,457.19 L173.03,457.21 L173.67,457.23 L174.30,457.25 L174.94,457.27 L175.57,457.29 L176.21,457.31 L176.84,457.32 L177.48,457.34 L178.12,457.36 L178.75,457.37 L179.39,457.39 L180.02,457.40 L180.66,457.42 L181.30,457.43 L181.93,457.45 L182.57,457.46 L183.20,457.47 L183.84,457.49 L184.48,457.50 L185.11,457.51 L185.75,457.53 L186.38,457.54 L187.02,457.55 L187.66,457.56 L188.29,457.57 L188.93,457.58 L189.56,457.59 L190.20,457.60 L190.84,457.61 L191.47,457.62 L192.11,457.63 L192.74,457.64 L193.38,457.65 L194.01,457.66 L194.65,457.67 L195.29,457.68 L195.92,457.68 L196.56,457.69 L197.19,457.70 L197.83,457.71 L198.47,457.71 L199.10,457.72 L199.74,457.73 L200.37,457.74 L201.01,457.74 L201.65,457.75 L202.28,457.75 L202.92,457.76 L203.55,457.77 L204.19,457.77 L204.83,457.78 L205.46,457.78 L206.10,457.79 L206.73,457.79 L207.37,457.80 L208.01,457.81 L208.64,457.81 L209.28,457.81 L209.91,457.82 L210.55,457.82 L211.19,457.83 L211.82,457.83 L212.46,457.84 L213.09,457.84 L213.73,457.84 L214.36,457.85 L215.00,457.85 L215.64,457.86 L216.27,457.86 L216.91,457.86 L217.54,457.87 L218.18,457.87 L218.82,457.87 L219.45,457.88 L220.09,457.88 L220.72,457.88 L221.36,457.89 L222.00,457.89 L222.63,457.89 L223.27,457.89 L223.90,457.90 L224.54,457.90 L225.18,457.90 L225.81,457.90 L226.45,457.91 L227.08,457.91 L227.72,457.91 L228.36,457.91 L228.99,457.92 L229.63,457.92 L230.26,457.92 L230.90,457.92 L231.53,457.92 L232.17,457.93 L232.81,457.93 L233.44,457.93" stroke="#0000ff"/>
<path d="M43.30,328.99 L43.94,332.23 L44.57,335.39 L45.21,338.46 L45.84,341.46 L46.48,344.39 L47.12,347.24 L47.75,350.02 L48.39,352.73 L49.02,355.37 L49.66,357.95 L50.30,360.46 L50.93,362.91 L51.57,365.29 L52.20,367.62 L52.84,369.89 L53.47,372.10 L54.11,374.26 L54.75,376.36 L55.38,378.41 L56.02,380.40 L56.65,382.35 L57.29,384.25 L57.93,386.10 L58.56,387.91 L59.20,389.67 L59.83,391.38 L60.47,393.05 L61.11,394.68 L61.74,396.27 L62.38,397.82 L63.01,399.33 L63.65,400.80 L64.29,402.24 L64.92,403.64 L65.56,405.00 L66.19,406.33 L66.83,407.63 L67.47,408.89 L68.10,410.13 L68.74,411.33 L69.37,412.50 L70.01,413.64 L70.64,414.75 L71.28,415.84 L71.92,416.90 L72.55,417.93 L73.19,418.94 L73.82,419.92 L74.46,420.87 L75.10,421.80 L75.73,422.71 L76.37,423.60 L77.00,424.46 L77.64,425.30 L78.28,426.12 L78.91,426.92 L79.55,427.70 L80.18,428.46 L80.82,429.20 L81.46,429.93 L82.09,430.63 L82.73,431.32 L83.36,431.99 L84.00,432.64 L84.64,433.28 L85.27,433.90 L85.91,434.50 L86.54,435.09 L87.18,435.67 L87.81,436.23 L88.45,436.77 L89.09,437.31 L89.72,437.83 L90.36,438.33 L90.99,438.83 L91.63,439.31 L92.27,439.78 L92.90,440.23 L93.54,440.68 L94.17,441.11 L94.81,441.54 L95.45,441.95 L96.08,442.35 L96.72,442.75 L97.35,443.13 L97.99,443.50 L98.63,443.87 L99.26,444.22 L99.90,444.57 L100.53,444.90 L101.17,445.23 L101.81,445.55 L102.44,445.87 L103.08,446.17 L103.71,446.47 L104.35,446.76 L104.99,447.04 L105.62,447.31 L106.26,447.58 L106.89,447.84 L107.53,448.10 L108.16,448.35 L108.80,448.59 L109.44,448.83 L110.07,449.06 L110.71,449.28 L111.34,449.50 L111.98,449.71 L112.62,449.92 L113.25,450.12 L113.89,450.32 L114.52,450.51 L115.16,450.70 L115.80,450.88 L116.43,451.06 L117.07,451.24 L117.70,451.41 L118.34,451.57 L118.98,451.73 L119.61,451.89 L120.25,452.04 L120.88,452.19 L121.52,452.34 L122.16,452.48 L122.79,452.62 L123.43,452.76 L124.06,452.89 L124.70,453.02 L125.33,453.14 L125.97,453.26 L126.61,453.38 L127.24,453.50 L127.88,453.61 L128.51,453.72 L129.15,453.83 L129.79,453.93 L130.42,454.03 L131.06,454.13 L131.69,454.23 L132.33,454.33 L132.97,454.42 L133.60,454.51 L134.24,454.60 L134.87,454.68 L135.51,454.76 L136.15,454.85 L136.78,454.92 L137.42,455.00 L138.05,455.08 L138.69,455.15 L139.33,455.22 L139.96,455.29 L140.60,455.36 L141.23,455.43 L141.87,455.49 L142.50,455.55 L143.14,455.61 L143.78,455.67 L144.41,455.73 L145.05,455.79 L145.68,455.85 L146.32,455.90 L146.96,455.95 L147.59,456.00 L148.23,456.05 L148.86,456.10 L149.50,456.15 L150.14,456.20 L150.77,456.24 L151.41,456.29 L152.04,456.33 L152.68,456.37 L153.32,456.41 L153.95,456.45 L154.59,456.49 L155.22,456.53 L155.86,456.57 L156.50,456.60 L157.13,456.64 L157.77,456.67 L158.40,456.70 L159.04,456.74 L159.67,456.77 L160.31,456.80 L160.95,456.83 L161.58,456.86 L162.22,456.89 L162.85,456.92 L163.49,456.94 L164.13,456.97 L164.76,456.99 L165.40,457.02 L166.03,457.04 L166.67,457.07 L167.31,457.09 L167.94,457.11 L168.58,457.14 L169.21,457.16 L169.85,457.18 L170.49,457.20 L171.12,457.22 L171.76,457.24 L172.39,457.26 L173.03,457.28 L173.67,457.30 L174.30,457.31 L174.94,457.33 L175.57,457.35 L176.21,457.36 L176.84,457.38 L177.48,457.40 L178.12,457.41 L178.75,457.43 L179.39,457.44 L180.02,457.45 L180.66,457.47 L181.30,457.48 L181.93,457.49 L182.57,457.51 L183.20,457.52 L183.84,457.53 L184.48,457.54 L185.11,457.55 L185.75,457.57 L186.38,457.58 L187.02,457.59 L187.66,457.60 L188.29,457.61 L188.93,457.62 L189.56,457.63 L190.20,457.64 L190.84,457.65 L191.47,457.65 L192.11,457.66 L192.74,457.67 L193.38,457.68 L194.01,457.69 L194.65,457.70 L195.29,457.70 L195.92,457.71 L196.56,457.72 L197.19,457.73 L197.83,457.73 L198.47,457.74 L199.10,457.75 L199.74,457.75 L200.37,457.76 L201.01,457.76 L201.65,457.77 L202.28,457.78 L202.92,457.78 L203.55,457.79 L204.19,457.79 L204.83,457.80 L205.46,457.80 L206.10,457.81 L206.73,457.81 L207.37,457.82 L208.01,457.82 L208.64,457.83 L209.28,457.83 L209.91,457.83 L210.55,457.84 L211.19,457.84 L211.82,457.85 L212.46,457.85 L213.09,457.85 L213.73,457.86 L214.36,457.86 L215.00,457.87 L215.64,457.87 L216.27,457.87 L216.91,457.87 L217.54,457.88 L218.18,457.88 L218.82,457.88 L219.45,457.89 L220.09,457.89 L220.72,457.89 L221.36,457.90 L222.00,457.90 L222.63,457.90 L223.27,457.90 L223.90,457.91 L224.54,457.91 L225.18,457.91 L225.81,457.91 L226.45,457.91 L227.08,457.92 L227.72,457.92 L228.36,457.92 L228.99,457.92 L229.63,457.92 L230.26,457.93 L230.90,457.93 L231.53,457.93 L232.17,457.93 L232.81,457.93 L233.44,457.94" stroke="#ff0000"/>
<path d="M43.30,396.46 L43.97,398.09 L44.64,399.67 L45.31,401.21 L45.98,402.71 L46.65,404.17 L47.32,405.59 L47.99,406.97 L48.66,408.32 L49.32,409.63 L49.99,410.91 L50.66,412.15 L51.33,413.36 L52.00,414.54 L52.67,415.69 L53.34,416.81 L54.01,417.89 L54.68,418.95 L55.35,419.98 L56.02,420.99 L56.69,421.96 L57.36,422.91 L58.03,423.84 L58.70,424.74 L59.37,425.62 L60.03,426.48 L60.70,427.31 L61.37,428.12 L62.04,428.91 L62.71,429.68 L63.38,430.42 L64.05,431.15 L64.72,431.86 L65.39,432.55 L66.06,433.22 L66.73,433.88 L67.40,434.51 L68.07,435.13 L68.74,435.74 L69.41,436.32 L70.08,436.90 L70.75,437.45 L71.41,438.00 L72.08,438.52 L72.75,439.04 L73.42,439.54 L74.09,440.03 L74.76,440.50 L75.43,440.96 L76.10,441.41 L76.77,441.85 L77.44,442.28 L78.11,442.69 L78.78,443.10 L79.45,443.49 L80.12,443.87 L80.79,444.25 L81.46,444.61 L82.13,444.96 L82.79,445.31 L83.46,445.64 L84.13,445.97 L84.80,446.29 L85.47,446.60 L86.14,446.90 L86.81,447.19 L87.48,447.47 L88.15,447.75 L88.82,448.02 L89.49,448.29 L90.16,448.54 L90.83,448.79 L91.50,449.04 L92.17,449.27 L92.84,449.50 L93.50,449.73 L94.17,449.95 L94.84,450.16 L95.51,450.37 L96.18,450.57 L96.85,450.76 L97.52,450.95 L98.19,451.14 L98.86,451.32 L99.53,451.50 L100.20,451.67 L100.87,451.84 L101.54,452.00 L102.21,452.16 L102.88,452.31 L103.55,452.46 L104.22,452.61 L104.88,452.75 L105.55,452.89 L106.22,453.02 L106.89,453.16 L107.56,453.28 L108.23,453.41 L108.90,453.53 L109.57,453.65 L110.24,453.76 L110.91,453.87 L111.58,453.98 L112.25,454.09 L112.92,454.19 L113.59,454.29 L114.26,454.39 L114.93,454.49 L115.59,454.58 L116.26,454.67 L116.93,454.76 L117.60,454.84 L118.27,454.93 L118.94,455.01 L119.61,455.09 L120.28,455.16 L120.95,455.24 L121.62,455.31 L122.29,455.38 L122.96,455.45 L123.63,455.52 L124.30,455.58 L124.97,455.65 L125.64,455.71 L126.31,455.77 L126.97,455.83 L127.64,455.89 L128.31,455.94 L128.98,456.00 L129.65,456.05 L130.32,456.10 L130.99,456.15 L131.66,456.20 L132.33,456.25 L133.00,456.29 L133.67,456.34 L134.34,456.38 L135.01,456.43 L135.68,456.47 L136.35,456.51 L137.02,456.55 L137.69,456.59 L138.35,456.62 L139.02,456.66 L139.69,456.69 L140.36,456.73 L141.03,456.76 L141.70,456.79 L142.37,456.83 L143.04,456.86 L143.71,456.89 L144.38,456.92 L145.05,456.95 L145.72,456.97 L146.39,457.00 L147.06,457.03 L147.73,457.05 L148.40,457.08 L149.06,457.10 L149.73,457.13 L150.40,457.15 L151.07,457.17 L151.74,457.19 L152.41,457.21 L153.08,457.24 L153.75,457.26 L154.42,457.28 L155.09,457.29 L155.76,457.31 L156.43,457.33 L157.10,457.35 L157.77,457.37 L158.44,457.38 L159.11,457.40 L159.78,457.41 L160.44,457.43 L161.11,457.45 L161.78,457.46 L162.45,457.47 L163.12,457.49 L163.79,457.50 L164.46,457.51 L165.13,457.53 L165.80,457.54 L166.47,457.55 L167.14,457.56 L167.81,457.58 L168.48,457.59 L169.15,457.60 L169.82,457.61 L170.49,457.62 L171.16,457.63 L171.82,457.64 L172.49,457.65 L173.16,457.66 L173.83,457.67 L174.50,457.68 L175.17,457.68 L175.84,457.69 L176.51,457.70 L177.18,457.71 L177.85,457.72 L178.52,457.72 L179.19,457.73 L179.86,457.74 L180.53,457.74 L181.20,457.75 L181.87,457.76 L182.53,457.76 L183.20,457.77 L183.87,457.78 L184.54,457.78 L185.21,457.79 L185.88,457.79 L186.55,457.80 L187.22,457.80 L187.89,457.81 L188.56,457.81 L189.23,457.82 L189.90,457.82 L190.57,457.83 L191.24,457.83 L191.91,457.84 L192.58,457.84 L193.25,457.85 L193.91,457.85 L194.58,457.85 L195.25,457.86 L195.92,457.86 L196.59,457.87 L197.26,457.87 L197.93,457.87 L198.60,457.88 L199.27,457.88 L199.94,457.88 L200.61,457.89 L201.28,457.89 L201.95,457.89 L202.62,457.89 L203.29,457.90 L203.96,457.90 L204.62,457.90 L205.29,457.91 L205.96,457.91 L206.63,457.91 L207.30,457.91 L207.97,457.91 L208.64,457.92 L209.31,457.92 L209.98,457.92 L210.65,457.92 L211.32,457.93 L211.99,457.93 L212.66,457.93 L213.33,457.93 L214.00,457.93 L214.67,457.93 L215.34,457.94 L216.00,457.94 L216.67,457.94 L217.34,457.94 L218.01,457.94 L218.68,457.94 L219.35,457.95 L220.02,457.95 L220.69,457.95 L221.36,457.95 L222.03,457.95 L222.70,457.95 L223.37,457.95 L224.04,457.96 L224.71,457.96 L225.38,457.96 L226.05,457.96 L226.72,457.96 L227.38,457.96 L228.05,457.96 L228.72,457.96 L229.39,457.96 L230.06,457.96 L230.73,457.97 L231.40,457.97 L232.07,457.97 L232.74,457.97 L233.41,457.97 L234.08,457.97 L234.75,457.97 L235.42,457.97 L236.09,457.97 L236.76,457.97 L237.43,457.97 L238.09,457.97 L238.76,457.98 L239.43,457.98 L240.10,457.98 L240.77,457.98 L241.44,457.98 L242.11,457.98 L242.78,457.98 L243.45,457.98" stroke="#00ff00"/>
<path d="M43.30,450.88 L44.64,451.25 L45.98,451.61 L47.32,451.94 L48.66,452.25 L49.99,452.55 L51.33,452.84 L52.67,453.11 L54.01,453.36 L55.35,453.60 L56.69,453.83 L58.03,454.05 L59.37,454.26 L60.70,454.45 L62.04,454.64 L63.38,454.81 L64.72,454.98 L66.06,455.13 L67.40,455.28 L68.74,455.43 L70.08,455.56 L71.41,455.69 L72.75,455.81 L74.09,455.92 L75.43,456.03 L76.77,456.13 L78.11,456.23 L79.45,456.32 L80.79,456.41 L82.13,456.49 L83.46,456.57 L84.80,456.65 L86.14,456.72 L87.48,456.78 L88.82,456.85 L90.16,456.91 L91.50,456.96 L92.84,457.02 L94.17,457.07 L95.51,457.12 L96.85,457.16 L98.19,457.21 L99.53,457.25 L100.87,457.29 L102.21,457.32 L103.55,457.36 L104.88,457.39 L106.22,457.42 L107.56,457.45 L108.90,457.48 L110.24,457.51 L111.58,457.54 L112.92,457.56 L114.26,457.58 L115.59,457.60 L116.93,457.62 L118.27,457.64 L119.61,457.66 L120.95,457.68 L122.29,457.70 L123.63,457.71 L124.97,457.73 L126.31,457.74 L127.64,457.76 L128.98,457.77 L130.32,457.78 L131.66,457.79 L133.00,457.80 L134.34,457.81 L135.68,457.82 L137.02,457.83 L138.35,457.84 L139.69,457.85 L141.03,457.86 L142.37,457.86 L143.71,457.87 L145.05,457.88 L146.39,457.88 L147.73,457.89 L149.06,457.90 L150.40,457.90 L151.74,457.91 L153.08,457.91 L154.42,457.92 L155.76,457.92 L157.10,457.92 L158.44,457.93 L159.78,457.93 L161.11,457.94 L162.45,457.94 L163.79,457.94 L165.13,457.95 L166.47,457.95 L167.81,457.95 L169.15,457.95 L170.49,457.96 L171.82,457.96 L173.16,457.96 L174.50,457.96 L175.84,457.96 L177.18,457.97 L178.52,457.97 L179.86,457.97 L181.20,457.97 L182.53,457.97 L183.87,457.97 L185.21,457.98 L186.55,457.98 L187.89,457.98 L189.23,457.98 L190.57,457.98 L191.91,457.98 L193.25,457.98 L194.58,457.98 L195.92,457.98 L197.26,457.98 L198.60,457.99 L199.94,457.99 L201.28,457.99 L202.62,457.99 L203.96,457.99 L205.29,457.99 L206.63,457.99 L207.97,457.99 L209.31,457.99 L210.65,457.99 L211.99,457.99 L213.33,457.99 L214.67,457.99 L216.00,457.99 L217.34,457.99 L218.68,457.99 L220.02,457.99 L221.36,457.99 L222.70,457.99 L224.04,457.99 L225.38,458.00 L226.72,458.00 L228.05,458.00 L229.39,458.00 L230.73,458.00 L232.07,458.00 L233.41,458.00 L234.75,458.00 L236.09,458.00 L237.43,458.00 L238.76,458.00 L240.10,458.00 L241.44,458.00 L242.78,458.00 L244.12,458.00 L245.46,458.00 L246.80,458.00 L248.14,458.00 L249.47,458.00 L250.81,458.00 L252.15,458.00 L253.49,458.00 L254.83,458.00 L256.17,458.00 L257.51,458.00 L258.85,458.00 L260.18,458.00 L261.52,458.00 L262.86,458.00 L264.20,458.00 L265.54,458.00 L266.88,458.00 L268.22,458.00 L269.56,458.00 L270.90,458.00 L272.23,458.00 L273.57,458.00 L274.91,458.00 L276.25,458.00 L277.59,458.00 L278.93,458.00 L280.27,458.00 L281.61,458.00 L282.94,458.00 L284.28,458.00 L285.62,458.00 L286.96,458.00 L288.30,458.00 L289.64,458.00 L290.98,458.00 L292.32,458.00 L293.65,458.00 L294.99,458.00 L296.33,458.00 L297.67,458.00 L299.01,458.00 L300.35,458.00 L301.69,458.00 L303.03,458.00 L304.37,458.00 L305.70,458.00 L307.04,458.00 L308.38,458.00 L309.72,458.00 L311.06,458.00 L312.40,458.00 L313.74,458.00 L315.08,458.00 L316.41,458.00 L317.75,458.00 L319.09,458.00 L320.43,458.00 L321.77,458.00 L323.11,458.00 L324.45,458.00 L325.79,458.00 L327.12,458.00 L328.46,458.00 L329.80,458.00 L331.14,458.00 L332.48,458.00 L333.82,458.00 L335.16,458.00 L336.50,458.00 L337.84,458.00 L339.17,458.00 L340.51,458.00 L341.85,458.00 L343.19,458.00 L344.53,458.00 L345.87,458.00 L347.21,458.00 L348.55,458.00 L349.88,458.00 L351.22,458.00 L352.56,458.00 L353.90,458.00 L355.24,458.00 L356.58,458.00 L357.92,458.00 L359.26,458.00 L360.59,458.00 L361.93,458.00 L363.27,458.00 L364.61,458.00 L365.95,458.00 L367.29,458.00 L368.63,458.00 L369.97,458.00 L371.31,458.00 L372.64,458.00 L373.98,458.00 L375.32,458.00 L376.66,458.00 L378.00,458.00 L379.34,458.00 L380.68,458.00 L382.02,458.00 L383.35,458.00 L384.69,458.00 L386.03,458.00 L387.37,458.00 L388.71,458.00 L390.05,458.00 L391.39,458.00 L392.73,458.00 L394.06,458.00 L395.40,458.00 L396.74,458.00 L398.08,458.00 L399.42,458.00 L400.76,458.00 L402.10,458.00 L403.44,458.00 L404.77,458.00 L406.11,458.00 L407.45,458.00 L408.79,458.00 L410.13,458.00 L411.47,458.00 L412.81,458.00 L414.15,458.00 L415.49,458.00 L416.82,458.00 L418.16,458.00 L419.50,458.00 L420.84,458.00 L422.18,458.00 L423.52,458.00 L424.86,458.00 L426.20,458.00 L427.53,458.00 L428.87,458.00 L430.21,458.00 L431.55,458.00 L432.89,458.00 L434.23,458.00 L435.57,458.00 L436.91,458.00 L438.24,458.00 L439.58,458.00 L440.92,458.00 L442.26,458.00 L443.60,458.00" stroke="#00ffff"/>
</g>
<rect x="309.1" y="315.7" width="131.30" height="58.50" fill="#fff" stroke="#c8c8c8" stroke-width="1.1"/>
<path d="M309.7,323.40 H321.7" stroke="#0000ff" stroke-width="2" fill="none"/>
<text x="322.3" y="327.60" font-size="11.18" fill="#262626" stroke="#262626" stroke-width="0.22">Strain rate = 0.1 1/s</text>
<path d="M309.7,337.80 H321.7" stroke="#ff0000" stroke-width="2" fill="none"/>
<text x="322.3" y="342.00" font-size="11.18" fill="#262626" stroke="#262626" stroke-width="0.22">Strain rate = 0.01 1/s</text>
<path d="M309.7,352.20 H321.7" stroke="#00ff00" stroke-width="2" fill="none"/>
<text x="322.3" y="356.40" font-size="11.18" fill="#262626" stroke="#262626" stroke-width="0.22">Strain rate = 0.001 1/s</text>
<path d="M309.7,366.60 H321.7" stroke="#00ffff" stroke-width="2" fill="none"/>
<text x="322.3" y="370.80" font-size="11.18" fill="#262626" stroke="#262626" stroke-width="0.22">Strain rate = 0.0001 1/s</text>
<text x="243.5" y="527.3" font-size="13.62" fill="#262626" stroke="#262626" stroke-width="0.22" text-anchor="middle">Time (sec)</text>
<text transform="translate(14.2,404.3) rotate(-90)" font-size="13.8" fill="#262626" stroke="#262626" stroke-width="0.22" text-anchor="middle">Stress (Pa)</text>
<text x="224.2" y="543.8" font-size="11.8" font-weight="bold" font-family="'Liberation Serif', 'DejaVu Serif', serif" fill="#000" text-anchor="middle">(b)</text>
</svg>
</body>
</html>
